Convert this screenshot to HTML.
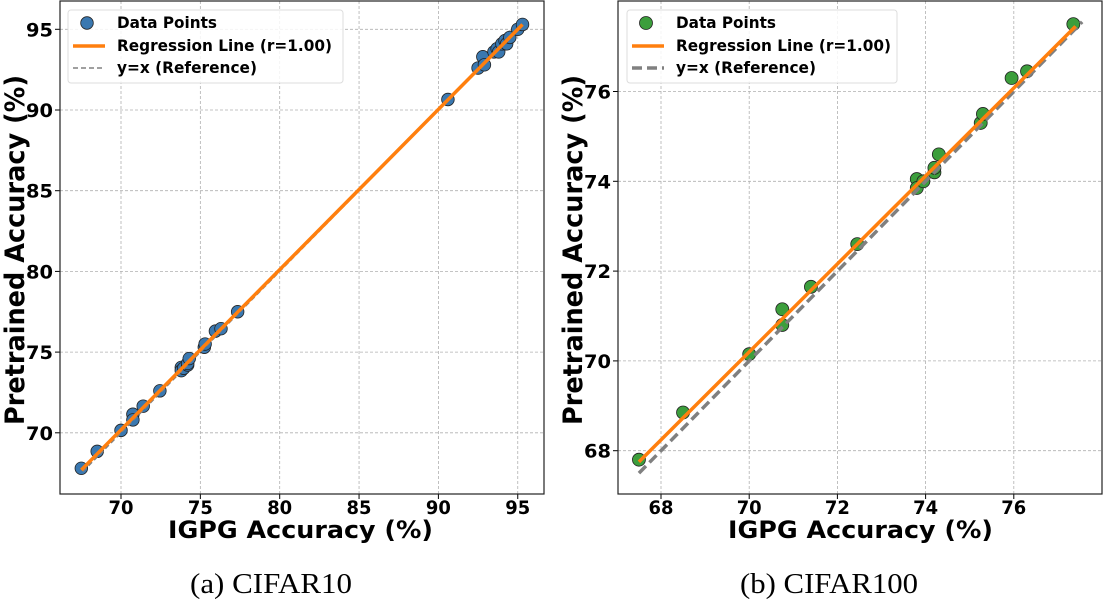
<!DOCTYPE html>
<html><head><meta charset="utf-8"><style>
body{margin:0;background:#fff;width:1105px;height:600px;overflow:hidden}
svg{font-family:"DejaVu Sans","Liberation Sans",sans-serif}
</style></head><body>
<svg id="s" width="1105" height="600" xmlns="http://www.w3.org/2000/svg"></svg>
<script>
const s=document.getElementById('s');let h='';
function panel(o){
 const X=v=>o.x0+(v-o.xr0)*o.kx, Y=v=>o.y0-(v-o.yr0)*o.ky;
 const T=1,B=494,H=B-T;
 h+=`<rect x="${o.L}" y="${T}" width="${o.R-o.L}" height="${H}" fill="#fff"/>`;
 o.xt.forEach(t=>{h+=`<line x1="${X(t)}" x2="${X(t)}" y1="${T}" y2="${B}" stroke="#b0b0b0" stroke-width="0.8" stroke-dasharray="3,2"/>`;
  h+=`<line x1="${X(t)}" x2="${X(t)}" y1="${B}" y2="${B+5}" stroke="#000"/>`;
  h+=`<text x="${X(t)}" y="514" font-size="19" font-weight="bold" text-anchor="middle" textLength="25" lengthAdjust="spacingAndGlyphs">${t}</text>`;});
 o.yt.forEach(t=>{h+=`<line y1="${Y(t)}" y2="${Y(t)}" x1="${o.L}" x2="${o.R}" stroke="#b0b0b0" stroke-width="0.8" stroke-dasharray="3,2"/>`;
  h+=`<line y1="${Y(t)}" y2="${Y(t)}" x1="${o.L-5}" x2="${o.L}" stroke="#000"/>`;
  h+=`<text x="${o.L-7}" y="${Y(t)+7}" font-size="19" font-weight="bold" text-anchor="end" textLength="27" lengthAdjust="spacingAndGlyphs">${t}</text>`;});
 o.pts.forEach(p=>{h+=`<circle cx="${X(p[0])}" cy="${Y(p[1])}" r="${o.pr}" fill="${o.c}" stroke="#222" stroke-width="0.8"/>`;});
 h+=`<line x1="${X(o.d[0])}" y1="${Y(o.d[0])}" x2="${X(o.d[1])}" y2="${Y(o.d[1])}" stroke="#808080" stroke-width="${o.dw}" stroke-dasharray="${o.dd}"/>`;
 h+=`<line x1="${X(o.r[0])}" y1="${Y(o.r[1])}" x2="${X(o.r[2])}" y2="${Y(o.r[3])}" stroke="#ff7f0e" stroke-width="${o.rw}"/>`;
 h+=`<rect x="${o.L}" y="${T}" width="${o.R-o.L}" height="${H}" fill="none" stroke="#222" stroke-width="1.2"/>`;
 const lx=o.lx;
 h+=`<rect x="${lx}" y="10" width="${o.lw}" height="73" rx="3" fill="#fff" fill-opacity="0.85" stroke="#ddd"/>`;
 h+=`<circle cx="${lx+19}" cy="23" r="${o.pr}" fill="${o.c}" stroke="#222" stroke-width="0.8"/>`;
 h+=`<line x1="${lx+5}" x2="${lx+37}" y1="46" y2="46" stroke="#ff7f0e" stroke-width="3.5"/>`;
 h+=`<line x1="${lx+5}" x2="${lx+37}" y1="68" y2="68" stroke="#808080" stroke-width="${o.dw}" stroke-dasharray="${o.dd}"/>`;
 [['Data Points',28,100],['Regression Line (r=1.00)',51,215],['y=x (Reference)',73,140]].forEach(t=>{h+=`<text x="${lx+49}" y="${t[1]}" font-size="16" font-weight="bold" textLength="${t[2]}" lengthAdjust="spacingAndGlyphs">${t[0]}</text>`;});
 h+=`<text x="${o.xlc-132}" y="538" font-size="24" font-weight="bold" textLength="265" lengthAdjust="spacingAndGlyphs">IGPG Accuracy (%)</text>`;
 h+=`<text transform="translate(${o.ylx},425) rotate(-90)" font-size="27" font-weight="bold" textLength="350" lengthAdjust="spacingAndGlyphs">Pretrained Accuracy (%)</text>`;
 h+=`<text x="${o.capx}" y="593" font-size="29" font-family="Liberation Serif,serif" textLength="${o.capw}" lengthAdjust="spacingAndGlyphs">${o.capt}</text>`;
}
const base=[[67.5,67.8],[68.5,68.85],[70,70.15],[70.75,71.15],[70.75,70.8],[71.4,71.65],[72.45,72.6],[73.8,74.05],[73.8,73.85],[73.95,74],[74.2,74.2],[74.2,74.3],[74.3,74.6],[75.25,75.3],[75.3,75.5],[75.95,76.3],[76.3,76.45],[77.35,77.5]];
panel({L:60,R:544,x0:121,xr0:70,kx:15.87,y0:432.8,yr0:70,ky:16.14,xt:[70,75,80,85,90,95],yt:[70,75,80,85,90,95],
 pts:base.concat([[90.6,90.65],[92.5,92.6],[92.8,93.3],[92.9,92.8],[93.5,93.6],[93.7,93.8],[93.8,93.6],[94,94.1],[94.2,94.3],[94.3,94.1],[94.5,94.5],[95,95],[95.3,95.3]]),
 c:"#3a78b0",pr:6.3,d:[67.6,95.3],dw:1.5,dd:"5,3",r:[67.5,67.7,95.3,95.3],rw:3.5,lx:68,lw:275,capx:190,capw:162,capt:"(a) CIFAR10",xlc:300,ylx:24});
panel({L:618,R:1102,x0:661,xr0:68,kx:44.1,y0:450.7,yr0:68,ky:44.9,xt:[68,70,72,74,76],yt:[68,70,72,74,76],
 pts:base,c:"#3c9e3c",pr:6.5,d:[67.5,77.55],dw:3.5,dd:"10,5",r:[67.5,67.75,77.4,77.45],rw:3.5,lx:627,lw:270,capx:740,capw:178,capt:"(b) CIFAR100",xlc:860,ylx:582});
s.innerHTML=h;
</script>
</body></html>
